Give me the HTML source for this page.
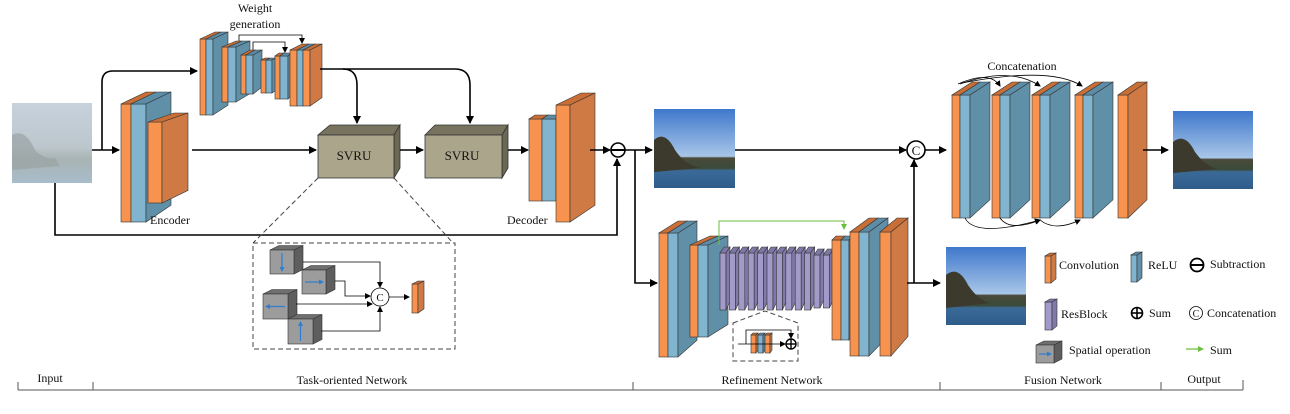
<!DOCTYPE html>
<html><head><meta charset="utf-8"><style>
html,body{margin:0;padding:0;background:#fff;}
svg{display:block;}
text{font-family:"Liberation Serif",serif;fill:#111;}
</style></head><body>
<svg id="s" width="1290" height="414" viewBox="0 0 1290 414" xmlns="http://www.w3.org/2000/svg">
<defs>
<marker id="ar" markerWidth="8" markerHeight="8" refX="7" refY="4" orient="auto" markerUnits="userSpaceOnUse"><path d="M0,0 L8,4 L0,8 z" fill="#000"/></marker>
<marker id="as" markerWidth="6" markerHeight="6" refX="5" refY="3" orient="auto" markerUnits="userSpaceOnUse"><path d="M0,0 L6,3 L0,6 z" fill="#000"/></marker>
<marker id="ag" markerWidth="6" markerHeight="6" refX="5" refY="3" orient="auto" markerUnits="userSpaceOnUse"><path d="M0,0 L6,3 L0,6 z" fill="#6cbf3c"/></marker>
<marker id="ab" markerWidth="5" markerHeight="5" refX="4" refY="2.5" orient="auto" markerUnits="userSpaceOnUse"><path d="M0,0 L5,2.5 L0,5 z" fill="#2f7fd0"/></marker>
<linearGradient id="haze" x1="0" y1="0" x2="0" y2="1"><stop offset="0" stop-color="#c7d2de"/><stop offset="0.55" stop-color="#bcc6cc"/><stop offset="0.7" stop-color="#a9b4b4"/><stop offset="1" stop-color="#a8bccb"/></linearGradient>
<linearGradient id="sky" x1="0" y1="0" x2="0" y2="1"><stop offset="0" stop-color="#3f78cc"/><stop offset="0.6" stop-color="#a8c6e8"/><stop offset="0.62" stop-color="#4a4a3a"/><stop offset="0.75" stop-color="#3a4a3a"/><stop offset="0.78" stop-color="#3c6a98"/><stop offset="1" stop-color="#2e5d8a"/></linearGradient>
</defs>
<g id="g"></g>

<!-- images -->
<rect x="12" y="103" width="80" height="80" fill="url(#haze)"/>
<path d="M12,135 Q25,128 35,150 Q45,160 55,158 L60,166 L12,170 z" fill="#9aa3a3" opacity="0.7"/>
<rect x="654" y="109" width="81" height="79" fill="url(#sky)"/>
<path d="M654,140 Q665,130 675,150 Q685,165 700,168 L654,172 z" fill="#3b3a2c"/>
<rect x="946" y="247" width="80" height="78" fill="url(#sky)"/>
<path d="M946,275 Q958,265 968,285 Q978,300 990,303 L946,308 z" fill="#3b3a2c"/>
<rect x="1173" y="111" width="80" height="78" fill="url(#sky)"/>
<path d="M1173,142 Q1185,132 1195,152 Q1205,166 1218,169 L1173,173 z" fill="#3b3a2c"/>

<!-- SVRU boxes -->
<g stroke="#333" stroke-width="0.8">
<polygon points="318,135 330,125 400,125 394,135" fill="#77735f"/>
<polygon points="394,135 400,125 400,168 394,178" fill="#6b6855"/>
<rect x="318" y="135" width="76" height="43" fill="#aaa58b"/>
<polygon points="425,135 435,125 508,125 502,135" fill="#77735f"/>
<polygon points="502,135 508,125 508,168 502,178" fill="#6b6855"/>
<rect x="425" y="135" width="77" height="43" fill="#aaa58b"/>
</g>
<text x="354" y="160" font-size="13" text-anchor="middle">SVRU</text>
<text x="462" y="160" font-size="13" text-anchor="middle">SVRU</text>

<!-- connectors -->
<g fill="none" stroke="#000" stroke-width="1.6">
<line x1="92" y1="150" x2="119" y2="150" marker-end="url(#ar)"/>
<path d="M102,150 L102,82 Q102,71 113,71 L197,71" marker-end="url(#ar)"/>
<line x1="192" y1="150" x2="316" y2="150" marker-end="url(#ar)"/>
<line x1="400" y1="150" x2="423" y2="150" marker-end="url(#ar)"/>
<line x1="508" y1="150" x2="528" y2="150" marker-end="url(#ar)"/>
<path d="M320,69 L343,69 Q357,69 357,85 L357,123" marker-end="url(#ar)"/>
<path d="M343,69 L455,69 Q470,69 470,85 L470,123" marker-end="url(#ar)"/>
<line x1="590" y1="150" x2="610" y2="150" marker-end="url(#ar)"/>
<path d="M55,183 L55,235 L617,235 L617,159" marker-end="url(#ar)"/>
<line x1="625" y1="150" x2="652" y2="150" marker-end="url(#ar)"/>
<path d="M635,150 L635,283 L657,283" marker-end="url(#ar)"/>
<line x1="735" y1="150" x2="906" y2="150" marker-end="url(#ar)"/>
<line x1="925" y1="150" x2="946" y2="150" marker-end="url(#ar)"/>
<line x1="907" y1="283" x2="940" y2="283" marker-end="url(#ar)"/>
<line x1="914" y1="283" x2="914" y2="160" marker-end="url(#ar)"/>
<line x1="1143" y1="150" x2="1168" y2="150" marker-end="url(#ar)"/>
</g>
<g fill="none" stroke="#000" stroke-width="0.8">
<path d="M239,41 L239,35 L302,35 L302,43" marker-end="url(#as)"/>
<path d="M253,50 L253,42 L285,42 L285,52" marker-end="url(#as)"/>
<path d="M958,84 Q990,70 1000,86" marker-end="url(#as)"/>
<path d="M960,84 Q1010,66 1040,86" marker-end="url(#as)"/>
<path d="M962,83 Q1050,66 1082,86" marker-end="url(#as)"/>
<path d="M965,218 Q975,238 1040,220" marker-end="url(#as)"/>
<path d="M1000,218 Q1010,232 1040,220" marker-end="url(#as)"/>
<path d="M1040,220 Q1055,232 1080,220" marker-end="url(#as)"/>
</g>
<path d="M719,245 L719,221 L844,221 L844,229" fill="none" stroke="#6cbf3c" stroke-width="1" marker-end="url(#ag)"/>

<!-- circles -->
<g fill="#fff" stroke="#000" stroke-width="1.6">
<circle cx="618" cy="150" r="7"/>
<circle cx="916" cy="150" r="9"/>
</g>
<line x1="611" y1="150" x2="625" y2="150" stroke="#000" stroke-width="2"/>
<text x="916" y="155" font-size="13" text-anchor="middle">C</text>

<!-- dashed SVRU detail -->
<g fill="none" stroke="#444" stroke-width="1" stroke-dasharray="5,3">
<line x1="318" y1="178" x2="253" y2="243"/>
<line x1="394" y1="178" x2="453" y2="243"/>
<rect x="253" y="243" width="202" height="106"/>
<path d="M733,323 L765,311 L798,323 L798,361 L733,361 z"/>
</g>
<g id="cubes"></g>
<g fill="none" stroke="#000" stroke-width="0.8">
<path d="M303,262 L380,262 L380,287" marker-end="url(#as)"/>
<path d="M335,281 L345,281 L345,296 L370,296" marker-end="url(#as)"/>
<path d="M296,304 L372,304" marker-end="url(#as)"/>
<path d="M321,331 L380,331 L380,307" marker-end="url(#as)"/>
<path d="M389,297 L409,297" marker-end="url(#as)"/>
<path d="M738,344 L785,344" marker-end="url(#as)"/>
<path d="M746,344 L746,330 L791,330 L791,338" marker-end="url(#as)"/>
</g>
<circle cx="380" cy="297" r="9" fill="#fff" stroke="#000" stroke-width="0.8"/>
<text x="380" y="301" font-size="11" text-anchor="middle" font-family="Liberation Sans,sans-serif">C</text>
<circle cx="791" cy="344" r="5" fill="#fff" stroke="#000" stroke-width="1.4"/>
<line x1="786" y1="344" x2="796" y2="344" stroke="#000" stroke-width="1.4"/>
<line x1="791" y1="339" x2="791" y2="349" stroke="#000" stroke-width="1.4"/>

<!-- labels -->
<text x="255" y="12" font-size="12" text-anchor="middle">Weight</text>
<text x="255" y="28" font-size="12" text-anchor="middle">generation</text>
<text x="150" y="224" font-size="12">Encoder</text>
<text x="507" y="224" font-size="12">Decoder</text>
<text x="1022" y="70" font-size="12" text-anchor="middle">Concatenation</text>

<!-- legend -->
<text x="1059" y="269" font-size="12">Convolution</text>
<text x="1148" y="269" font-size="12">ReLU</text>
<circle cx="1197" cy="265" r="6.5" fill="#fff" stroke="#000" stroke-width="1.8"/>
<line x1="1190" y1="265" x2="1204" y2="265" stroke="#000" stroke-width="2"/>
<text x="1210" y="268" font-size="12">Subtraction</text>
<text x="1061" y="318" font-size="12">ResBlock</text>
<circle cx="1137" cy="313" r="5.5" fill="#fff" stroke="#000" stroke-width="1.6"/>
<line x1="1131" y1="313" x2="1143" y2="313" stroke="#000" stroke-width="1.6"/>
<line x1="1137" y1="307" x2="1137" y2="319" stroke="#000" stroke-width="1.6"/>
<text x="1149" y="317" font-size="12">Sum</text>
<circle cx="1196" cy="313" r="6.5" fill="#fff" stroke="#000" stroke-width="0.8"/>
<text x="1196" y="317" font-size="10" text-anchor="middle">C</text>
<text x="1207" y="317" font-size="12">Concatenation</text>
<text x="1069" y="354" font-size="12">Spatial operation</text>
<line x1="1186" y1="349" x2="1203" y2="349" stroke="#6cbf3c" stroke-width="1.2" marker-end="url(#ag)"/>
<text x="1210" y="354" font-size="12">Sum</text>

<!-- axis -->
<g stroke="#555" stroke-width="1" fill="none">
<line x1="18" y1="390" x2="1243" y2="390"/>
<line x1="18" y1="382" x2="18" y2="390"/>
<line x1="93" y1="382" x2="93" y2="390"/>
<line x1="633" y1="382" x2="633" y2="390"/>
<line x1="940" y1="382" x2="940" y2="390"/>
<line x1="1161" y1="382" x2="1161" y2="390"/>
<line x1="1243" y1="380" x2="1243" y2="390"/>
</g>
<text x="50" y="382" font-size="12" text-anchor="middle">Input</text>
<text x="352" y="384" font-size="12" text-anchor="middle">Task-oriented Network</text>
<text x="772" y="384" font-size="12" text-anchor="middle">Refinement Network</text>
<text x="1063" y="384" font-size="12" text-anchor="middle">Fusion Network</text>
<text x="1204" y="383" font-size="12" text-anchor="middle">Output</text>
</svg>
<script>
(function(){
var NS="http://www.w3.org/2000/svg",g=document.getElementById("g");
var C={O:["#f7934f","#c86e36"],B:["#80b4cf","#5c8ca6"],P:["#a29bc9","#7d77a6"]};
var SIDE={O:"#cf7a45",B:"#608fa8",P:"#817aa9"};
function el(t,a,p){var e=document.createElementNS(NS,t);for(var k in a)e.setAttribute(k,a[k]);(p||g).appendChild(e);return e;}
function poly(pts,f,p){el("polygon",{points:pts.map(function(q){return q.join(",")}).join(" "),fill:f,stroke:"#333","stroke-width":"0.6"},p);}
function slab(x,y,h,dx,dy,layers){
 var cur=x,last;
 layers.forEach(function(l){var w=l[0],c=l[1];
  el("rect",{x:cur,y:y,width:w,height:h,fill:C[c][0],stroke:"#333","stroke-width":"0.6"});
  poly([[cur,y],[cur+w,y],[cur+w+dx,y-dy],[cur+dx,y-dy]],C[c][1]);
  cur+=w;last=c;});
 poly([[cur,y],[cur+dx,y-dy],[cur+dx,y+h-dy*1.4],[cur,y+h]],SIDE[last]);
}
// weight generation
slab(200,39,76,15,7,[[6,"O"],[7,"B"]]);
slab(222,47,55,14,6,[[6,"O"],[8,"B"]]);
slab(241,55,39,9,5,[[5,"O"],[7,"B"]]);
slab(261,60,33,4,2,[[5,"O"],[6,"B"]]);
slab(275,56,43,4,3,[[5,"O"],[8,"B"]]);
slab(290,50,56,12,6,[[7,"O"],[6,"B"],[7,"O"]]);
// encoder
slab(121,104,118,25,12,[[10,"O"],[15,"B"]]);
slab(148,122,81,26,9,[[14,"O"]]);
// decoder
slab(529,119,82,6,4,[[13,"O"],[14,"B"]]);
slab(556,105,117,25,12,[[14,"O"]]);
// refinement
slab(659,233,124,19,12,[[9,"O"],[10,"B"]]);
slab(690,245,92,20,9,[[8,"O"],[10,"B"]]);
for(var i=0;i<12;i++){var x=720+i*9.4;slab(x,253+(i>9?2:0),57-(i>9?4:0),4,6,[[6,"P"]]);}
slab(832,240,100,4,4,[[9,"O"],[8,"B"]]);
slab(850,232,124,19,14,[[9,"O"],[10,"B"]]);
slab(880,232,124,17,14,[[11,"O"]]);
// fusion
[952,992,1032,1075].forEach(function(x){slab(x,95,123,20,13,[[8,"O"],[10,"B"]]);});
slab(1118,95,123,19,13,[[10,"O"]]);
// legend & small
slab(1045,256,27,5,3,[[6,"O"]]);
slab(1131,255,27,5,3,[[6,"B"]]);
slab(1045,302,28,5,3,[[7,"P"]]);
slab(412,284,29,6,3,[[6,"O"]]);
slab(751,335,18,2,2,[[5,"O"]]);slab(758,335,18,2,2,[[5,"B"]]);slab(765,335,18,2,2,[[5,"O"]]);
// cubes
var cg=document.getElementById("cubes");
function cube(x,y,s,d,dir){
 poly([[x,y],[x+s,y],[x+s+d,y-d*0.5],[x+d,y-d*0.5]],"#6f6f6f",cg);
 poly([[x+s,y],[x+s+d,y-d*0.5],[x+s+d,y+s-d*0.5],[x+s,y+s]],"#5e5e5e",cg);
 el("rect",{x:x,y:y,width:s,height:s,fill:"#9c9c9c",stroke:"#333","stroke-width":"0.6"},cg);
 var cx=x+s/2,cy=y+s/2,a={stroke:"#2f7fd0","stroke-width":"1.2","marker-end":"url(#ab)"};
 if(dir=="d"){a.x1=cx;a.y1=y+3;a.x2=cx;a.y2=y+s-3;}
 if(dir=="r"){a.x1=x+3;a.y1=cy;a.x2=x+s-3;a.y2=cy;}
 if(dir=="l"){a.x1=x+s-3;a.y1=cy;a.x2=x+3;a.y2=cy;}
 if(dir=="u"){a.x1=cx;a.y1=y+s-3;a.x2=cx;a.y2=y+3;}
 el("line",a,cg);
}
cube(270,250,24,9,"d");
cube(302,270,24,9,"r");
cube(263,294,25,9,"l");
cube(288,319,25,9,"u");
cube(1036,345,18,8,"r");
})();
</script>
</body></html>
